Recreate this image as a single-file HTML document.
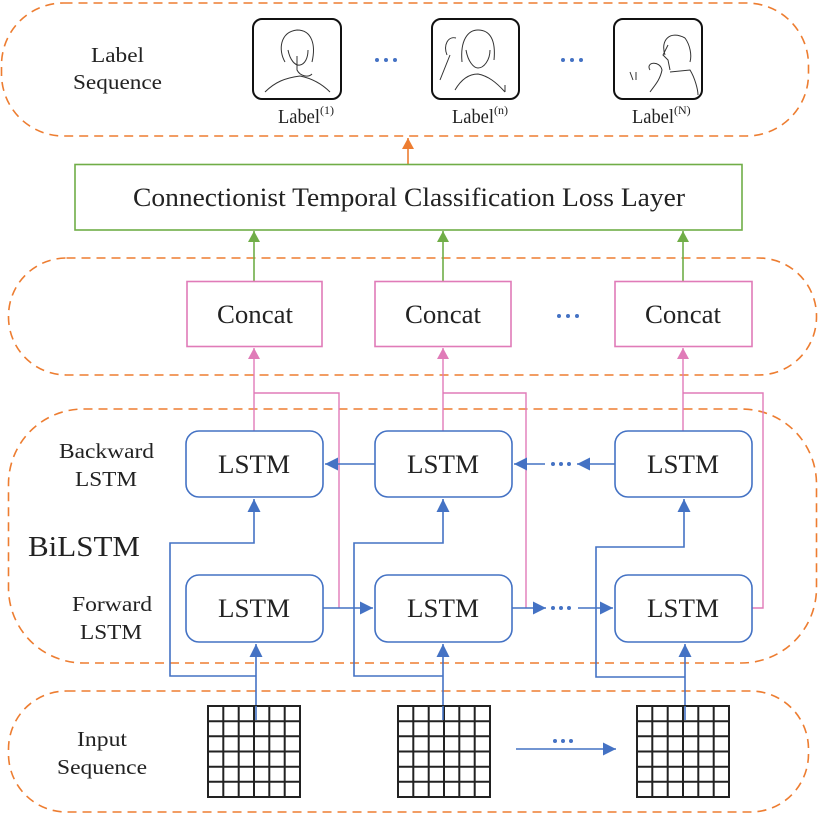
<!DOCTYPE html>
<html><head><meta charset="utf-8"><style>
html,body{margin:0;padding:0;background:#fff;}
svg{display:block;}
text{font-family:"Liberation Serif","Times New Roman",serif;fill:#222;}
</style></head><body>
<svg width="820" height="813" viewBox="0 0 820 813" xmlns="http://www.w3.org/2000/svg" font-family="Liberation Serif, serif">
<defs>
<marker id="ab" markerWidth="14" markerHeight="14" refX="13" refY="6.5" orient="auto" markerUnits="userSpaceOnUse"><path d="M0,0 L13,6.5 L0,13 z" fill="#4472c4"/></marker>
<marker id="ap" markerWidth="14" markerHeight="14" refX="11" refY="6" orient="auto" markerUnits="userSpaceOnUse"><path d="M0,0 L11,6 L0,12 z" fill="#e07bb8"/></marker>
<marker id="ag" markerWidth="14" markerHeight="14" refX="11" refY="6" orient="auto" markerUnits="userSpaceOnUse"><path d="M0,0 L11,6 L0,12 z" fill="#70ad47"/></marker>
<marker id="ao" markerWidth="14" markerHeight="14" refX="11" refY="6" orient="auto" markerUnits="userSpaceOnUse"><path d="M0,0 L11,6 L0,12 z" fill="#ed7d31"/></marker>
<g id="grid" stroke="#222" stroke-width="2" fill="none">
<rect x="0" y="0" width="92" height="91"/>
<path d="M15.3,0V91M30.7,0V91M46,0V91M61.3,0V91M76.7,0V91M0,15.2H92M0,30.3H92M0,45.5H92M0,60.7H92M0,75.8H92"/>
</g>
</defs>

<g fill="none" stroke="#ed7d31" stroke-width="1.6" stroke-dasharray="9,6">
<rect x="1.5" y="3" width="807" height="133" rx="62"/>
<rect x="8.5" y="258" width="808" height="117" rx="58"/>
<rect x="8.5" y="409" width="808" height="254" rx="75"/>
<rect x="8.5" y="691" width="800" height="121" rx="58"/>
</g>

<text x="91" y="62" font-size="21" textLength="53" lengthAdjust="spacingAndGlyphs">Label</text>
<text x="73" y="89" font-size="21" textLength="89" lengthAdjust="spacingAndGlyphs">Sequence</text>
<g fill="#fff" stroke="#111" stroke-width="2">
<rect x="253" y="19" width="88" height="80" rx="9"/>
<rect x="432" y="19" width="87" height="80" rx="9"/>
<rect x="614" y="19" width="88" height="80" rx="9"/>
</g>
<g fill="none" stroke="#333" stroke-width="1">
<path d="M285,62 C278,50 280,32 297,30 C312,30 316,45 312,62 M288,50 C290,60 295,66 300,65 C305,64 308,58 308,50 M297,56 V70 C300,76 308,78 312,74 M265,92 C275,82 285,78 300,76 C310,78 320,82 330,92"/>
<path d="M462,62 C460,40 468,30 478,30 C490,30 496,40 494,60 M466,50 C468,62 474,68 478,68 C484,68 490,60 490,50 M447,55 C443,45 448,36 456,38 M440,80 L450,55 M455,90 C462,78 470,74 478,74 C488,76 496,82 505,92 M505,85 V92"/>
<path d="M665,55 C660,40 670,30 685,38 M668,45 L663,55 L668,60 L670,70 M685,38 C690,45 692,55 690,62 M670,72 L690,70 C695,78 698,90 698,95 M650,70 C645,62 660,60 662,70 C660,80 655,85 650,92 M630,72 L633,80 M636,72 L636,80"/>
</g>
<text x="278" y="123" font-size="20" textLength="42" lengthAdjust="spacingAndGlyphs">Label</text><text x="320" y="114" font-size="12">(1)</text>
<text x="452" y="123" font-size="20" textLength="42" lengthAdjust="spacingAndGlyphs">Label</text><text x="494" y="114" font-size="12">(n)</text>
<text x="632" y="123" font-size="20" textLength="42" lengthAdjust="spacingAndGlyphs">Label</text><text x="674" y="114" font-size="12">(N)</text>
<g fill="#4472c4">
<circle cx="377" cy="60" r="2"/><circle cx="386" cy="60" r="2"/><circle cx="395" cy="60" r="2"/>
<circle cx="563" cy="60" r="2"/><circle cx="572" cy="60" r="2"/><circle cx="581" cy="60" r="2"/>
</g>

<line x1="408" y1="165" x2="408" y2="138" stroke="#ed7d31" stroke-width="1.6" marker-end="url(#ao)"/>
<rect x="75" y="164.5" width="667" height="65.5" fill="#fff" stroke="#70ad47" stroke-width="1.6"/>
<text x="133" y="206" font-size="26" textLength="552" lengthAdjust="spacingAndGlyphs">Connectionist Temporal Classification Loss Layer</text>

<g stroke="#70ad47" stroke-width="1.6" marker-end="url(#ag)">
<line x1="254" y1="281" x2="254" y2="231"/>
<line x1="443" y1="281" x2="443" y2="231"/>
<line x1="683" y1="281" x2="683" y2="231"/>
</g>

<g fill="#fff" stroke="#e07bb8" stroke-width="1.6">
<rect x="187" y="281.5" width="135" height="65"/>
<rect x="375" y="281.5" width="136" height="65"/>
<rect x="615" y="281.5" width="137" height="65"/>
</g>
<text x="217" y="323" font-size="26" textLength="76" lengthAdjust="spacingAndGlyphs">Concat</text>
<text x="405" y="323" font-size="26" textLength="76" lengthAdjust="spacingAndGlyphs">Concat</text>
<text x="645" y="323" font-size="26" textLength="76" lengthAdjust="spacingAndGlyphs">Concat</text>
<g fill="#4472c4"><circle cx="559" cy="316" r="2"/><circle cx="568" cy="316" r="2"/><circle cx="577" cy="316" r="2"/></g>

<g fill="none" stroke="#e07bb8" stroke-width="1.4">
<line x1="254" y1="431" x2="254" y2="348" marker-end="url(#ap)"/>
<polyline points="254,393 339,393 339,608"/>
<line x1="443" y1="431" x2="443" y2="348" marker-end="url(#ap)"/>
<polyline points="443,393 526,393 526,608"/>
<line x1="683" y1="431" x2="683" y2="348" marker-end="url(#ap)"/>
<polyline points="683,393 763,393 763,608 752,608"/>
</g>

<text x="59" y="458" font-size="21" textLength="95" lengthAdjust="spacingAndGlyphs">Backward</text>
<text x="75" y="486" font-size="21" textLength="62" lengthAdjust="spacingAndGlyphs">LSTM</text>
<text x="28" y="556" font-size="28" textLength="112" lengthAdjust="spacingAndGlyphs">BiLSTM</text>
<text x="72" y="611" font-size="21" textLength="80" lengthAdjust="spacingAndGlyphs">Forward</text>
<text x="80" y="639" font-size="21" textLength="62" lengthAdjust="spacingAndGlyphs">LSTM</text>
<text x="77" y="746" font-size="21" textLength="50" lengthAdjust="spacingAndGlyphs">Input</text>
<text x="57" y="774" font-size="21" textLength="90" lengthAdjust="spacingAndGlyphs">Sequence</text>

<g fill="none" stroke="#4472c4" stroke-width="1.6">
<polyline points="256,676 170,676 170,543 254,543 254,499" marker-end="url(#ab)"/>
<line x1="256" y1="706" x2="256" y2="644" marker-end="url(#ab)"/>
<polyline points="443,676 354,676 354,543 443,543 443,499" marker-end="url(#ab)"/>
<line x1="443" y1="706" x2="443" y2="644" marker-end="url(#ab)"/>
<polyline points="685,677 596,677 596,547 684,547 684,499" marker-end="url(#ab)"/>
<line x1="685" y1="706" x2="685" y2="644" marker-end="url(#ab)"/>
<line x1="375" y1="464" x2="325" y2="464" marker-end="url(#ab)"/>
<line x1="615" y1="464" x2="577" y2="464" marker-end="url(#ab)"/>
<line x1="545" y1="464" x2="514" y2="464" marker-end="url(#ab)"/>
<line x1="323" y1="608" x2="373" y2="608" marker-end="url(#ab)"/>
<line x1="512" y1="608" x2="546" y2="608" marker-end="url(#ab)"/>
<line x1="578" y1="608" x2="613" y2="608" marker-end="url(#ab)"/>
<line x1="516" y1="749" x2="616" y2="749" marker-end="url(#ab)"/>
</g>
<g fill="#4472c4">
<circle cx="553" cy="464" r="2"/><circle cx="561" cy="464" r="2"/><circle cx="569" cy="464" r="2"/>
<circle cx="553" cy="608" r="2"/><circle cx="561" cy="608" r="2"/><circle cx="569" cy="608" r="2"/>
<circle cx="555" cy="741" r="2"/><circle cx="563" cy="741" r="2"/><circle cx="571" cy="741" r="2"/>
</g>

<g fill="#fff" stroke="#4472c4" stroke-width="1.6">
<rect x="186" y="431" width="137" height="66" rx="13"/>
<rect x="375" y="431" width="137" height="66" rx="13"/>
<rect x="615" y="431" width="137" height="66" rx="13"/>
<rect x="186" y="575" width="137" height="67" rx="13"/>
<rect x="375" y="575" width="137" height="67" rx="13"/>
<rect x="615" y="575" width="137" height="67" rx="13"/>
</g>
<g font-size="26">
<text x="218" y="473" textLength="72" lengthAdjust="spacingAndGlyphs">LSTM</text>
<text x="407" y="473" textLength="72" lengthAdjust="spacingAndGlyphs">LSTM</text>
<text x="647" y="473" textLength="72" lengthAdjust="spacingAndGlyphs">LSTM</text>
<text x="218" y="617" textLength="72" lengthAdjust="spacingAndGlyphs">LSTM</text>
<text x="407" y="617" textLength="72" lengthAdjust="spacingAndGlyphs">LSTM</text>
<text x="647" y="617" textLength="72" lengthAdjust="spacingAndGlyphs">LSTM</text>
</g>

<use href="#grid" x="208" y="706"/>
<use href="#grid" x="398" y="706"/>
<use href="#grid" x="637" y="706"/>
<g stroke="#4472c4" stroke-width="1.6">
<line x1="256" y1="706" x2="256" y2="720"/><line x1="443" y1="706" x2="443" y2="720"/><line x1="685" y1="706" x2="685" y2="720"/>
</g>
</svg>
</body></html>
